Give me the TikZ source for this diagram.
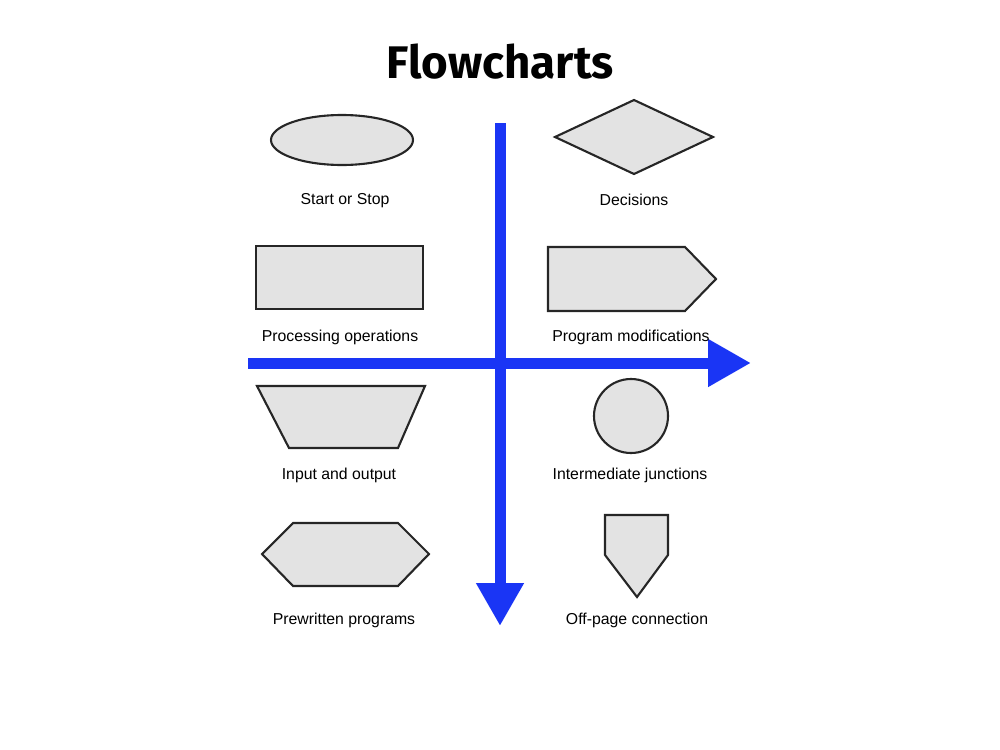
\documentclass[tikz,border=0pt]{standalone}
\usepackage{fontspec}
\setmainfont{Liberation Sans}
\newfontfamily\titlefont{Fira Sans}
\usetikzlibrary{arrows.meta}
\begin{document}
\begin{tikzpicture}[x=0.02cm,y=-0.02cm,
  shp/.style={draw=black!85,fill=black!11,line width=1.2pt},
  lbl/.style={font=\fontsize{9}{10}\selectfont},
  axis/.style={draw={rgb,255:red,26;green,53;blue,245},line width=0.22cm,
    -{Triangle[length=0.86cm,width=0.9cm]}}]
\useasboundingbox (0,0) rectangle (1000,750);
\node[font=\titlefont\bfseries\fontsize{26}{30}\selectfont] (title) at (500,62) {Flowcharts};
\coordinate (vtop) at (500,123); \coordinate (vbot) at (500,626);
\coordinate (hl) at (248,363); \coordinate (hr) at (751,363);
\draw[axis] (vtop) -- (vbot);
\draw[axis] (hl) -- (hr);
\draw[shp] (342,140) ellipse [x radius=71, y radius=25];
\draw[shp] (555,137) -- (634,100) -- (713,137) -- (634,174) -- cycle;
\draw[shp] (256,246) rectangle (423,309);
\draw[shp] (548,247) -- (685,247) -- (716,279) -- (685,311) -- (548,311) -- cycle;
\draw[shp] (257,386) -- (425,386) -- (398,448) -- (289,448) -- cycle;
\draw[shp] (631,416) circle [radius=37];
\draw[shp] (262,554) -- (293,523) -- (398,523) -- (429,554) -- (398,586) -- (293,586) -- cycle;
\draw[shp] (605,515) -- (668,515) -- (668,555) -- (637,597) -- (605,555) -- cycle;
\node[lbl] (l1) at (345,201) {Start or Stop};
\node[lbl] (l2) at (634,200) {Decisions};
\node[lbl] (l3) at (340,337) {Processing operations};
\node[lbl] (l4) at (631,337) {Program modifications};
\node[lbl] (l5) at (339,475) {Input and output};
\node[lbl] (l6) at (630,475) {Intermediate junctions};
\node[lbl] (l7) at (344,620) {Prewritten programs};
\node[lbl] (l8) at (637,620) {Off-page connection};
\end{tikzpicture}
\end{document}
